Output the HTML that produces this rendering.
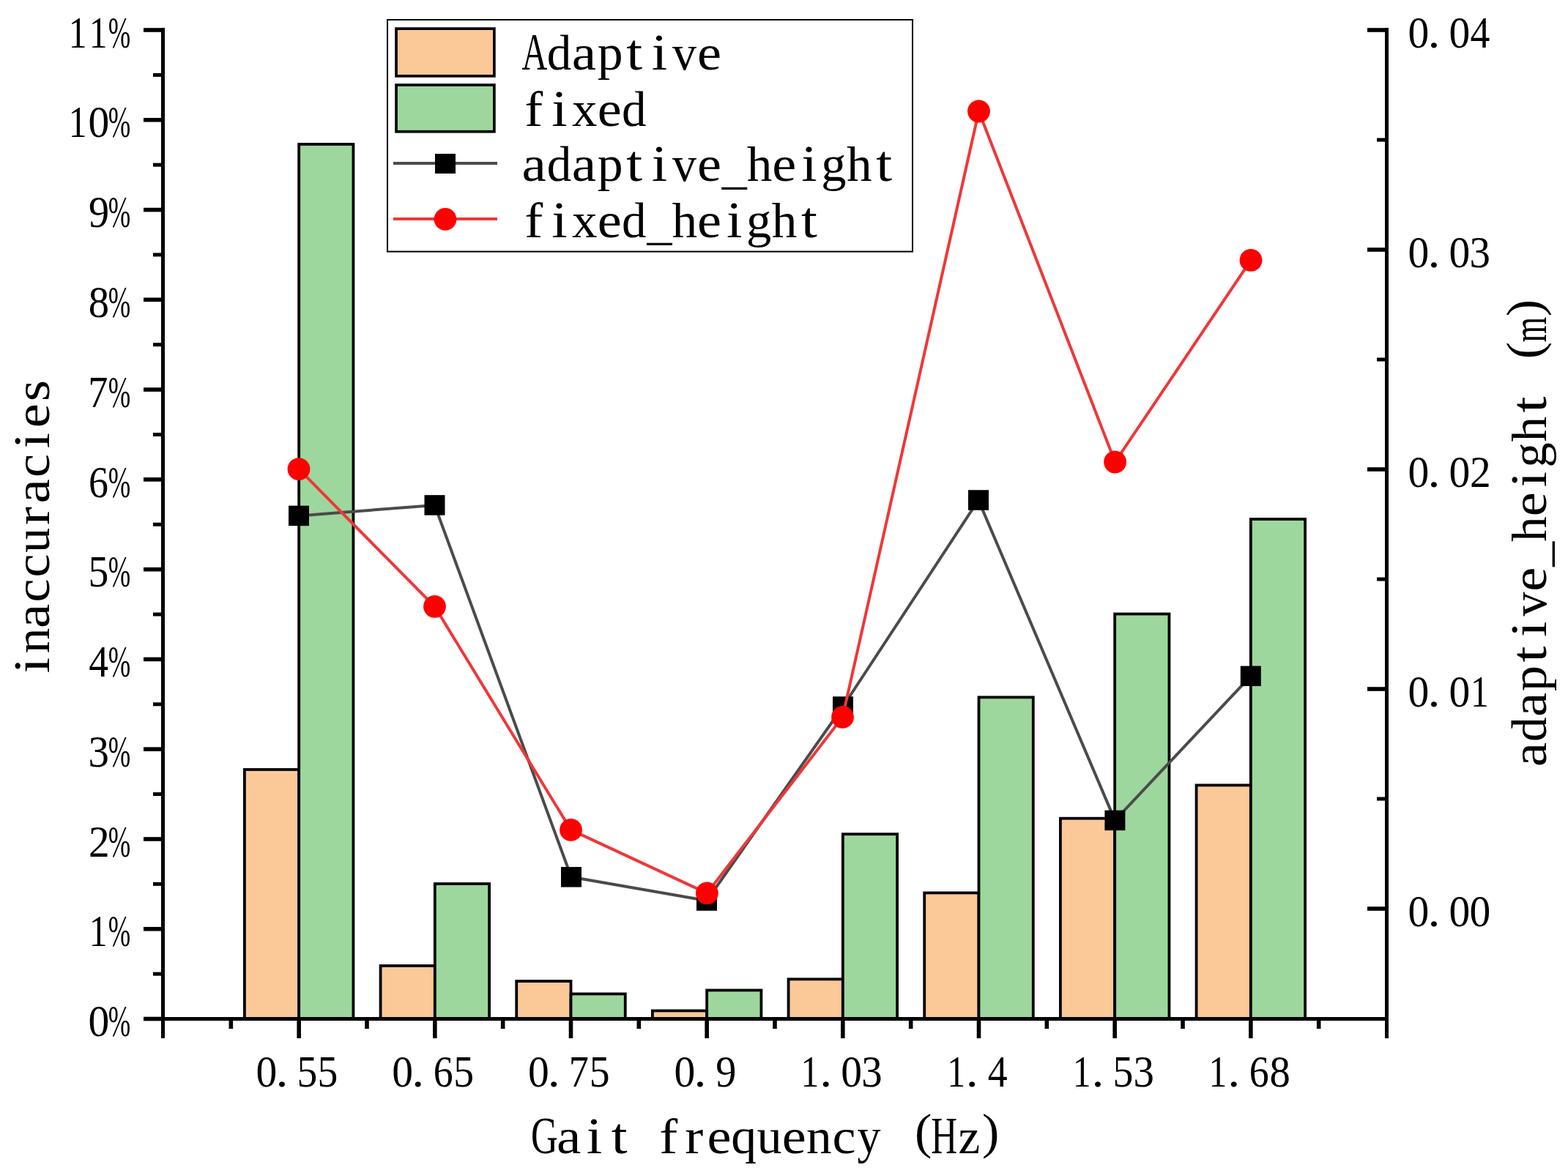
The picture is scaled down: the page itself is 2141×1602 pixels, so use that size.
<!DOCTYPE html>
<html><head><meta charset="utf-8"><title>Gait frequency chart</title><style>html,body{margin:0;padding:0;background:#fff;}svg{display:block;}</style></head><body>
<svg width="2141" height="1602" viewBox="0 0 2141 1602">
<rect x="0" y="0" width="2141" height="1602" fill="#fff"/>
<g stroke="#000" stroke-width="3.8" stroke-linejoin="miter">
<rect x="333.9" y="1051" width="74.27" height="340.5" fill="#FBC898"/>
<rect x="408.17" y="197" width="74.27" height="1194.5" fill="#9DD79D"/>
<rect x="519.57" y="1319" width="74.27" height="72.5" fill="#FBC898"/>
<rect x="593.83" y="1207" width="74.27" height="184.5" fill="#9DD79D"/>
<rect x="705.23" y="1340" width="74.27" height="51.5" fill="#FBC898"/>
<rect x="779.5" y="1357.4" width="74.27" height="34.1" fill="#9DD79D"/>
<rect x="890.9" y="1380.4" width="74.27" height="11.1" fill="#FBC898"/>
<rect x="965.17" y="1352.4" width="74.27" height="39.1" fill="#9DD79D"/>
<rect x="1076.57" y="1337.3" width="74.27" height="54.2" fill="#FBC898"/>
<rect x="1150.83" y="1139.2" width="74.27" height="252.3" fill="#9DD79D"/>
<rect x="1262.23" y="1219.4" width="74.27" height="172.1" fill="#FBC898"/>
<rect x="1336.5" y="952.3" width="74.27" height="439.2" fill="#9DD79D"/>
<rect x="1447.9" y="1117.7" width="74.27" height="273.8" fill="#FBC898"/>
<rect x="1522.17" y="838.5" width="74.27" height="553" fill="#9DD79D"/>
<rect x="1633.57" y="1072.4" width="74.27" height="319.1" fill="#FBC898"/>
<rect x="1707.83" y="709" width="74.27" height="682.5" fill="#9DD79D"/>
</g>
<g stroke="#000" fill="none" stroke-linecap="butt">
<line x1="222.5" y1="38" x2="222.5" y2="1418" stroke-width="5"/>
<line x1="1893.5" y1="38" x2="1893.5" y2="1418" stroke-width="5"/>
<line x1="196" y1="1391.5" x2="1896" y2="1391.5" stroke-width="5"/>
<line x1="196" y1="1391.5" x2="222.5" y2="1391.5" stroke-width="5.6"/>
<line x1="196" y1="1268.73" x2="222.5" y2="1268.73" stroke-width="5.6"/>
<line x1="196" y1="1145.95" x2="222.5" y2="1145.95" stroke-width="5.6"/>
<line x1="196" y1="1023.18" x2="222.5" y2="1023.18" stroke-width="5.6"/>
<line x1="196" y1="900.41" x2="222.5" y2="900.41" stroke-width="5.6"/>
<line x1="196" y1="777.64" x2="222.5" y2="777.64" stroke-width="5.6"/>
<line x1="196" y1="654.86" x2="222.5" y2="654.86" stroke-width="5.6"/>
<line x1="196" y1="532.09" x2="222.5" y2="532.09" stroke-width="5.6"/>
<line x1="196" y1="409.32" x2="222.5" y2="409.32" stroke-width="5.6"/>
<line x1="196" y1="286.55" x2="222.5" y2="286.55" stroke-width="5.6"/>
<line x1="196" y1="163.77" x2="222.5" y2="163.77" stroke-width="5.6"/>
<line x1="196" y1="41" x2="222.5" y2="41" stroke-width="5.6"/>
<line x1="209" y1="1330.11" x2="222.5" y2="1330.11" stroke-width="5"/>
<line x1="209" y1="1207.34" x2="222.5" y2="1207.34" stroke-width="5"/>
<line x1="209" y1="1084.57" x2="222.5" y2="1084.57" stroke-width="5"/>
<line x1="209" y1="961.8" x2="222.5" y2="961.8" stroke-width="5"/>
<line x1="209" y1="839.02" x2="222.5" y2="839.02" stroke-width="5"/>
<line x1="209" y1="716.25" x2="222.5" y2="716.25" stroke-width="5"/>
<line x1="209" y1="593.48" x2="222.5" y2="593.48" stroke-width="5"/>
<line x1="209" y1="470.7" x2="222.5" y2="470.7" stroke-width="5"/>
<line x1="209" y1="347.93" x2="222.5" y2="347.93" stroke-width="5"/>
<line x1="209" y1="225.16" x2="222.5" y2="225.16" stroke-width="5"/>
<line x1="209" y1="102.39" x2="222.5" y2="102.39" stroke-width="5"/>
<line x1="1867" y1="1241" x2="1893.5" y2="1241" stroke-width="5.6"/>
<line x1="1867" y1="941" x2="1893.5" y2="941" stroke-width="5.6"/>
<line x1="1867" y1="641" x2="1893.5" y2="641" stroke-width="5.6"/>
<line x1="1867" y1="341" x2="1893.5" y2="341" stroke-width="5.6"/>
<line x1="1867" y1="41" x2="1893.5" y2="41" stroke-width="5.6"/>
<line x1="1880" y1="1091" x2="1893.5" y2="1091" stroke-width="5"/>
<line x1="1880" y1="791" x2="1893.5" y2="791" stroke-width="5"/>
<line x1="1880" y1="491" x2="1893.5" y2="491" stroke-width="5"/>
<line x1="1880" y1="191" x2="1893.5" y2="191" stroke-width="5"/>
<line x1="408.17" y1="1391.5" x2="408.17" y2="1418" stroke-width="5.6"/>
<line x1="593.83" y1="1391.5" x2="593.83" y2="1418" stroke-width="5.6"/>
<line x1="779.5" y1="1391.5" x2="779.5" y2="1418" stroke-width="5.6"/>
<line x1="965.17" y1="1391.5" x2="965.17" y2="1418" stroke-width="5.6"/>
<line x1="1150.83" y1="1391.5" x2="1150.83" y2="1418" stroke-width="5.6"/>
<line x1="1336.5" y1="1391.5" x2="1336.5" y2="1418" stroke-width="5.6"/>
<line x1="1522.17" y1="1391.5" x2="1522.17" y2="1418" stroke-width="5.6"/>
<line x1="1707.83" y1="1391.5" x2="1707.83" y2="1418" stroke-width="5.6"/>
<line x1="315.33" y1="1391.5" x2="315.33" y2="1405" stroke-width="5.6"/>
<line x1="501" y1="1391.5" x2="501" y2="1405" stroke-width="5.6"/>
<line x1="686.67" y1="1391.5" x2="686.67" y2="1405" stroke-width="5.6"/>
<line x1="872.33" y1="1391.5" x2="872.33" y2="1405" stroke-width="5.6"/>
<line x1="1058" y1="1391.5" x2="1058" y2="1405" stroke-width="5.6"/>
<line x1="1243.67" y1="1391.5" x2="1243.67" y2="1405" stroke-width="5.6"/>
<line x1="1429.33" y1="1391.5" x2="1429.33" y2="1405" stroke-width="5.6"/>
<line x1="1615" y1="1391.5" x2="1615" y2="1405" stroke-width="5.6"/>
<line x1="1800.67" y1="1391.5" x2="1800.67" y2="1405" stroke-width="5.6"/>
</g>
<polyline points="408,704.4 593.5,689.9 780,1197.8 965,1230 1151,965 1336,683 1522.4,1120.4 1707.8,923.3" fill="none" stroke="#4B4B4B" stroke-width="4" stroke-linejoin="round"/>
<rect x="394" y="690.65" width="28" height="27.5" fill="#000"/>
<rect x="579.5" y="676.15" width="28" height="27.5" fill="#000"/>
<rect x="766" y="1184.05" width="28" height="27.5" fill="#000"/>
<rect x="951" y="1216.25" width="28" height="27.5" fill="#000"/>
<rect x="1137" y="951.25" width="28" height="27.5" fill="#000"/>
<rect x="1322" y="669.25" width="28" height="27.5" fill="#000"/>
<rect x="1508.4" y="1106.65" width="28" height="27.5" fill="#000"/>
<rect x="1693.8" y="909.55" width="28" height="27.5" fill="#000"/>
<polyline points="408,640.7 593.5,828.3 779.5,1133.4 965.4,1219.9 1150.5,979.4 1336.5,152 1522.6,631 1708,355.4" fill="none" stroke="#EF3739" stroke-width="4" stroke-linejoin="round"/>
<circle cx="408" cy="640.7" r="15.4" fill="#FF0000"/>
<circle cx="593.5" cy="828.3" r="15.4" fill="#FF0000"/>
<circle cx="779.5" cy="1133.4" r="15.4" fill="#FF0000"/>
<circle cx="965.4" cy="1219.9" r="15.4" fill="#FF0000"/>
<circle cx="1150.5" cy="979.4" r="15.4" fill="#FF0000"/>
<circle cx="1336.5" cy="152" r="15.4" fill="#FF0000"/>
<circle cx="1522.6" cy="631" r="15.4" fill="#FF0000"/>
<circle cx="1708" cy="355.4" r="15.4" fill="#FF0000"/>
<rect x="529" y="27" width="717" height="316.6" fill="none" stroke="#000" stroke-width="2"/>
<rect x="541.05" y="39.15" width="133.8" height="64.7" fill="#FBC898" stroke="#000" stroke-width="3.7"/>
<rect x="541.05" y="116.05" width="133.8" height="63.7" fill="#9DD79D" stroke="#000" stroke-width="3.7"/>
<line x1="537" y1="223" x2="679" y2="223" stroke="#4B4B4B" stroke-width="4"/>
<rect x="594" y="210" width="28" height="27" fill="#000"/>
<line x1="537" y1="299" x2="679" y2="299" stroke="#EF3739" stroke-width="4"/>
<circle cx="608" cy="299.4" r="15.3" fill="#FF0000"/>
<g font-family="'Liberation Serif', 'Noto Serif CJK SC', serif" fill="#000">
<text y="95.3" font-size="67"><tspan x="712.53" y="95.3" textLength="34.82" lengthAdjust="spacingAndGlyphs" font-size="72.36">A</tspan><tspan x="746.7" y="95.3">d</tspan><tspan x="780.74" y="95.3" textLength="33.31" lengthAdjust="spacingAndGlyphs">a</tspan><tspan x="815.68" y="95.3" textLength="34.85" lengthAdjust="spacingAndGlyphs">p</tspan><tspan x="855.3" y="95.3" textLength="21.89" lengthAdjust="spacingAndGlyphs" font-size="70.35">t</tspan><tspan x="889.69" y="95.3" textLength="21.47" lengthAdjust="spacingAndGlyphs" font-size="69.01">i</tspan><tspan x="918.1" y="95.3" textLength="33" lengthAdjust="spacingAndGlyphs">v</tspan><tspan x="952.05" y="95.3" textLength="32.98" lengthAdjust="spacingAndGlyphs">e</tspan></text>
<text y="172" font-size="67"><tspan x="716.35" y="172" textLength="24.99" lengthAdjust="spacingAndGlyphs">f</tspan><tspan x="753.29" y="172" textLength="21.47" lengthAdjust="spacingAndGlyphs" font-size="69.01">i</tspan><tspan x="781.09" y="172" textLength="34.45" lengthAdjust="spacingAndGlyphs">x</tspan><tspan x="815.65" y="172" textLength="32.98" lengthAdjust="spacingAndGlyphs">e</tspan><tspan x="849" y="172">d</tspan></text>
<text y="247.3" font-size="67"><tspan x="712.54" y="247.3" textLength="33.31" lengthAdjust="spacingAndGlyphs">a</tspan><tspan x="746.7" y="247.3">d</tspan><tspan x="780.74" y="247.3" textLength="33.31" lengthAdjust="spacingAndGlyphs">a</tspan><tspan x="815.68" y="247.3" textLength="34.85" lengthAdjust="spacingAndGlyphs">p</tspan><tspan x="855.3" y="247.3" textLength="21.89" lengthAdjust="spacingAndGlyphs" font-size="70.35">t</tspan><tspan x="889.69" y="247.3" textLength="21.47" lengthAdjust="spacingAndGlyphs" font-size="69.01">i</tspan><tspan x="918.1" y="247.3" textLength="33" lengthAdjust="spacingAndGlyphs">v</tspan><tspan x="952.05" y="247.3" textLength="32.98" lengthAdjust="spacingAndGlyphs">e</tspan><tspan x="985.83" y="249.8" textLength="33.94" lengthAdjust="spacingAndGlyphs">_</tspan><tspan x="1019.72" y="247.3" textLength="34.59" lengthAdjust="spacingAndGlyphs">h</tspan><tspan x="1054.35" y="247.3" textLength="32.98" lengthAdjust="spacingAndGlyphs">e</tspan><tspan x="1094.29" y="247.3" textLength="21.47" lengthAdjust="spacingAndGlyphs" font-size="69.01">i</tspan><tspan x="1121.26" y="247.3" textLength="34.25" lengthAdjust="spacingAndGlyphs">g</tspan><tspan x="1156.12" y="247.3" textLength="34.59" lengthAdjust="spacingAndGlyphs">h</tspan><tspan x="1196.3" y="247.3" textLength="21.89" lengthAdjust="spacingAndGlyphs" font-size="70.35">t</tspan></text>
<text y="323.6" font-size="67"><tspan x="716.35" y="323.6" textLength="24.99" lengthAdjust="spacingAndGlyphs">f</tspan><tspan x="753.29" y="323.6" textLength="21.47" lengthAdjust="spacingAndGlyphs" font-size="69.01">i</tspan><tspan x="781.09" y="323.6" textLength="34.45" lengthAdjust="spacingAndGlyphs">x</tspan><tspan x="815.65" y="323.6" textLength="32.98" lengthAdjust="spacingAndGlyphs">e</tspan><tspan x="849" y="323.6">d</tspan><tspan x="883.53" y="326.1" textLength="33.94" lengthAdjust="spacingAndGlyphs">_</tspan><tspan x="917.42" y="323.6" textLength="34.59" lengthAdjust="spacingAndGlyphs">h</tspan><tspan x="952.05" y="323.6" textLength="32.98" lengthAdjust="spacingAndGlyphs">e</tspan><tspan x="991.99" y="323.6" textLength="21.47" lengthAdjust="spacingAndGlyphs" font-size="69.01">i</tspan><tspan x="1018.96" y="323.6" textLength="34.25" lengthAdjust="spacingAndGlyphs">g</tspan><tspan x="1053.82" y="323.6" textLength="34.59" lengthAdjust="spacingAndGlyphs">h</tspan><tspan x="1094" y="323.6" textLength="21.89" lengthAdjust="spacingAndGlyphs" font-size="70.35">t</tspan></text>
<text y="1574.8" font-size="67"><tspan x="724.92" y="1574.8" textLength="36.67" lengthAdjust="spacingAndGlyphs" font-size="72.36">G</tspan><tspan x="760.14" y="1574.8" textLength="33.31" lengthAdjust="spacingAndGlyphs">a</tspan><tspan x="800.89" y="1574.8" textLength="21.47" lengthAdjust="spacingAndGlyphs" font-size="69.01">i</tspan><tspan x="834.7" y="1574.8" textLength="21.89" lengthAdjust="spacingAndGlyphs" font-size="70.35">t</tspan> <tspan x="900.35" y="1574.8" textLength="24.99" lengthAdjust="spacingAndGlyphs">f</tspan><tspan x="935.18" y="1574.8" textLength="24.99" lengthAdjust="spacingAndGlyphs">r</tspan><tspan x="965.55" y="1574.8" textLength="32.98" lengthAdjust="spacingAndGlyphs">e</tspan><tspan x="998.29" y="1574.8" textLength="34.77" lengthAdjust="spacingAndGlyphs">q</tspan><tspan x="1033.5" y="1574.8" textLength="34.06" lengthAdjust="spacingAndGlyphs">u</tspan><tspan x="1067.85" y="1574.8" textLength="32.98" lengthAdjust="spacingAndGlyphs">e</tspan><tspan x="1101.01" y="1574.8" textLength="34.64" lengthAdjust="spacingAndGlyphs">n</tspan><tspan x="1136.46" y="1574.8" textLength="31.96" lengthAdjust="spacingAndGlyphs">c</tspan><tspan x="1170.52" y="1574.8" textLength="32.03" lengthAdjust="spacingAndGlyphs">y</tspan> <tspan x="1248.92" y="1567.8" textLength="23.34" lengthAdjust="spacingAndGlyphs">(</tspan><tspan x="1271.17" y="1574.8" textLength="35.89" lengthAdjust="spacingAndGlyphs" font-size="72.36">H</tspan><tspan x="1308.41" y="1574.8">z</tspan><tspan x="1341.04" y="1567.8" textLength="23.34" lengthAdjust="spacingAndGlyphs">)</tspan></text>
<text y="67" font-size="67" transform="rotate(-90)"><tspan x="-919.51" y="67" textLength="21.47" lengthAdjust="spacingAndGlyphs" font-size="69.01">i</tspan><tspan x="-892.19" y="67" textLength="34.64" lengthAdjust="spacingAndGlyphs">n</tspan><tspan x="-857.96" y="67" textLength="33.31" lengthAdjust="spacingAndGlyphs">a</tspan><tspan x="-822.64" y="67" textLength="31.96" lengthAdjust="spacingAndGlyphs">c</tspan><tspan x="-788.54" y="67" textLength="31.96" lengthAdjust="spacingAndGlyphs">c</tspan><tspan x="-755.1" y="67" textLength="34.06" lengthAdjust="spacingAndGlyphs">u</tspan><tspan x="-717.02" y="67" textLength="24.99" lengthAdjust="spacingAndGlyphs">r</tspan><tspan x="-687.46" y="67" textLength="33.31" lengthAdjust="spacingAndGlyphs">a</tspan><tspan x="-652.14" y="67" textLength="31.96" lengthAdjust="spacingAndGlyphs">c</tspan><tspan x="-612.61" y="67" textLength="21.47" lengthAdjust="spacingAndGlyphs" font-size="69.01">i</tspan><tspan x="-584.35" y="67" textLength="32.98" lengthAdjust="spacingAndGlyphs">e</tspan><tspan x="-548.38" y="67" textLength="29.2" lengthAdjust="spacingAndGlyphs">s</tspan></text>
<text y="2111" font-size="67" transform="rotate(-90)"><tspan x="-1047.16" y="2111" textLength="33.31" lengthAdjust="spacingAndGlyphs">a</tspan><tspan x="-1013" y="2111">d</tspan><tspan x="-978.96" y="2111" textLength="33.31" lengthAdjust="spacingAndGlyphs">a</tspan><tspan x="-944.02" y="2111" textLength="34.85" lengthAdjust="spacingAndGlyphs">p</tspan><tspan x="-904.4" y="2111" textLength="21.89" lengthAdjust="spacingAndGlyphs" font-size="70.35">t</tspan><tspan x="-870.01" y="2111" textLength="21.47" lengthAdjust="spacingAndGlyphs" font-size="69.01">i</tspan><tspan x="-841.6" y="2111" textLength="33" lengthAdjust="spacingAndGlyphs">v</tspan><tspan x="-807.65" y="2111" textLength="32.98" lengthAdjust="spacingAndGlyphs">e</tspan><tspan x="-773.87" y="2113.5" textLength="33.94" lengthAdjust="spacingAndGlyphs">_</tspan><tspan x="-739.98" y="2111" textLength="34.59" lengthAdjust="spacingAndGlyphs">h</tspan><tspan x="-705.35" y="2111" textLength="32.98" lengthAdjust="spacingAndGlyphs">e</tspan><tspan x="-665.41" y="2111" textLength="21.47" lengthAdjust="spacingAndGlyphs" font-size="69.01">i</tspan><tspan x="-638.44" y="2111" textLength="34.25" lengthAdjust="spacingAndGlyphs">g</tspan><tspan x="-603.58" y="2111" textLength="34.59" lengthAdjust="spacingAndGlyphs">h</tspan><tspan x="-563.4" y="2111" textLength="21.89" lengthAdjust="spacingAndGlyphs" font-size="70.35">t</tspan> <tspan x="-490.18" y="2104" textLength="23.34" lengthAdjust="spacingAndGlyphs">(</tspan><tspan x="-467.43" y="2111" textLength="34.63" lengthAdjust="spacingAndGlyphs">m</tspan><tspan x="-432.16" y="2104" textLength="23.34" lengthAdjust="spacingAndGlyphs">)</tspan></text>
<text y="1415.2" font-size="60.6"><tspan x="120.51" y="1415.2" textLength="28.79" lengthAdjust="spacingAndGlyphs">0</tspan><tspan x="147.65" y="1415.2" textLength="30.5" lengthAdjust="spacingAndGlyphs">%</tspan></text>
<text y="1292.43" font-size="60.6"><tspan x="121.78" y="1292.43" textLength="24.85" lengthAdjust="spacingAndGlyphs">1</tspan><tspan x="147.65" y="1292.43" textLength="30.5" lengthAdjust="spacingAndGlyphs">%</tspan></text>
<text y="1169.65" font-size="60.6"><tspan x="120.88" y="1169.65" textLength="28.69" lengthAdjust="spacingAndGlyphs">2</tspan><tspan x="147.65" y="1169.65" textLength="30.5" lengthAdjust="spacingAndGlyphs">%</tspan></text>
<text y="1046.88" font-size="60.6"><tspan x="120.43" y="1046.88" textLength="28.44" lengthAdjust="spacingAndGlyphs">3</tspan><tspan x="147.65" y="1046.88" textLength="30.5" lengthAdjust="spacingAndGlyphs">%</tspan></text>
<text y="924.11" font-size="60.6"><tspan x="121.35" y="924.11" textLength="26.89" lengthAdjust="spacingAndGlyphs">4</tspan><tspan x="147.65" y="924.11" textLength="30.5" lengthAdjust="spacingAndGlyphs">%</tspan></text>
<text y="801.34" font-size="60.6"><tspan x="120.47" y="801.34" textLength="27.8" lengthAdjust="spacingAndGlyphs">5</tspan><tspan x="147.65" y="801.34" textLength="30.5" lengthAdjust="spacingAndGlyphs">%</tspan></text>
<text y="678.56" font-size="60.6"><tspan x="121.09" y="678.56" textLength="26.92" lengthAdjust="spacingAndGlyphs">6</tspan><tspan x="147.65" y="678.56" textLength="30.5" lengthAdjust="spacingAndGlyphs">%</tspan></text>
<text y="555.79" font-size="60.6"><tspan x="120.32" y="555.79" textLength="27.14" lengthAdjust="spacingAndGlyphs">7</tspan><tspan x="147.65" y="555.79" textLength="30.5" lengthAdjust="spacingAndGlyphs">%</tspan></text>
<text y="433.02" font-size="60.6"><tspan x="120.74" y="433.02" textLength="28.31" lengthAdjust="spacingAndGlyphs">8</tspan><tspan x="147.65" y="433.02" textLength="30.5" lengthAdjust="spacingAndGlyphs">%</tspan></text>
<text y="310.25" font-size="60.6"><tspan x="121.09" y="310.25" textLength="28.12" lengthAdjust="spacingAndGlyphs">9</tspan><tspan x="147.65" y="310.25" textLength="30.5" lengthAdjust="spacingAndGlyphs">%</tspan></text>
<text y="187.47" font-size="60.6"><tspan x="93.78" y="187.47" textLength="24.85" lengthAdjust="spacingAndGlyphs">1</tspan><tspan x="120.51" y="187.47" textLength="28.79" lengthAdjust="spacingAndGlyphs">0</tspan><tspan x="147.65" y="187.47" textLength="30.5" lengthAdjust="spacingAndGlyphs">%</tspan></text>
<text y="64.7" font-size="60.6"><tspan x="93.78" y="64.7" textLength="24.85" lengthAdjust="spacingAndGlyphs">1</tspan><tspan x="121.78" y="64.7" textLength="24.85" lengthAdjust="spacingAndGlyphs">1</tspan><tspan x="147.65" y="64.7" textLength="30.5" lengthAdjust="spacingAndGlyphs">%</tspan></text>
<text y="1264.8" font-size="60.6"><tspan x="1922.61" y="1264.8" textLength="28.79" lengthAdjust="spacingAndGlyphs">0</tspan><tspan x="1949.54" y="1264.8" textLength="16.93" lengthAdjust="spacingAndGlyphs">.</tspan><tspan x="1978.61" y="1264.8" textLength="28.79" lengthAdjust="spacingAndGlyphs">0</tspan><tspan x="2006.61" y="1264.8" textLength="28.79" lengthAdjust="spacingAndGlyphs">0</tspan></text>
<text y="964.8" font-size="60.6"><tspan x="1922.61" y="964.8" textLength="28.79" lengthAdjust="spacingAndGlyphs">0</tspan><tspan x="1949.54" y="964.8" textLength="16.93" lengthAdjust="spacingAndGlyphs">.</tspan><tspan x="1978.61" y="964.8" textLength="28.79" lengthAdjust="spacingAndGlyphs">0</tspan><tspan x="2007.88" y="964.8" textLength="24.85" lengthAdjust="spacingAndGlyphs">1</tspan></text>
<text y="664.8" font-size="60.6"><tspan x="1922.61" y="664.8" textLength="28.79" lengthAdjust="spacingAndGlyphs">0</tspan><tspan x="1949.54" y="664.8" textLength="16.93" lengthAdjust="spacingAndGlyphs">.</tspan><tspan x="1978.61" y="664.8" textLength="28.79" lengthAdjust="spacingAndGlyphs">0</tspan><tspan x="2006.98" y="664.8" textLength="28.69" lengthAdjust="spacingAndGlyphs">2</tspan></text>
<text y="364.8" font-size="60.6"><tspan x="1922.61" y="364.8" textLength="28.79" lengthAdjust="spacingAndGlyphs">0</tspan><tspan x="1949.54" y="364.8" textLength="16.93" lengthAdjust="spacingAndGlyphs">.</tspan><tspan x="1978.61" y="364.8" textLength="28.79" lengthAdjust="spacingAndGlyphs">0</tspan><tspan x="2006.53" y="364.8" textLength="28.44" lengthAdjust="spacingAndGlyphs">3</tspan></text>
<text y="64.8" font-size="60.6"><tspan x="1922.61" y="64.8" textLength="28.79" lengthAdjust="spacingAndGlyphs">0</tspan><tspan x="1949.54" y="64.8" textLength="16.93" lengthAdjust="spacingAndGlyphs">.</tspan><tspan x="1978.61" y="64.8" textLength="28.79" lengthAdjust="spacingAndGlyphs">0</tspan><tspan x="2007.45" y="64.8" textLength="26.89" lengthAdjust="spacingAndGlyphs">4</tspan></text>
<text y="1483.8" font-size="60.6"><tspan x="349.57" y="1483.8" textLength="28.79" lengthAdjust="spacingAndGlyphs">0</tspan><tspan x="376.5" y="1483.8" textLength="16.93" lengthAdjust="spacingAndGlyphs">.</tspan><tspan x="405.54" y="1483.8" textLength="27.8" lengthAdjust="spacingAndGlyphs">5</tspan><tspan x="433.54" y="1483.8" textLength="27.8" lengthAdjust="spacingAndGlyphs">5</tspan></text>
<text y="1483.8" font-size="60.6"><tspan x="535.24" y="1483.8" textLength="28.79" lengthAdjust="spacingAndGlyphs">0</tspan><tspan x="562.17" y="1483.8" textLength="16.93" lengthAdjust="spacingAndGlyphs">.</tspan><tspan x="591.82" y="1483.8" textLength="26.92" lengthAdjust="spacingAndGlyphs">6</tspan><tspan x="619.2" y="1483.8" textLength="27.8" lengthAdjust="spacingAndGlyphs">5</tspan></text>
<text y="1483.8" font-size="60.6"><tspan x="720.91" y="1483.8" textLength="28.79" lengthAdjust="spacingAndGlyphs">0</tspan><tspan x="747.84" y="1483.8" textLength="16.93" lengthAdjust="spacingAndGlyphs">.</tspan><tspan x="776.72" y="1483.8" textLength="27.14" lengthAdjust="spacingAndGlyphs">7</tspan><tspan x="804.87" y="1483.8" textLength="27.8" lengthAdjust="spacingAndGlyphs">5</tspan></text>
<text y="1483.8" font-size="60.6"><tspan x="920.57" y="1483.8" textLength="28.79" lengthAdjust="spacingAndGlyphs">0</tspan><tspan x="947.5" y="1483.8" textLength="16.93" lengthAdjust="spacingAndGlyphs">.</tspan><tspan x="977.15" y="1483.8" textLength="28.12" lengthAdjust="spacingAndGlyphs">9</tspan></text>
<text y="1483.8" font-size="60.6"><tspan x="1093.51" y="1483.8" textLength="24.85" lengthAdjust="spacingAndGlyphs">1</tspan><tspan x="1119.17" y="1483.8" textLength="16.93" lengthAdjust="spacingAndGlyphs">.</tspan><tspan x="1148.24" y="1483.8" textLength="28.79" lengthAdjust="spacingAndGlyphs">0</tspan><tspan x="1176.16" y="1483.8" textLength="28.44" lengthAdjust="spacingAndGlyphs">3</tspan></text>
<text y="1483.8" font-size="60.6"><tspan x="1293.18" y="1483.8" textLength="24.85" lengthAdjust="spacingAndGlyphs">1</tspan><tspan x="1318.84" y="1483.8" textLength="16.93" lengthAdjust="spacingAndGlyphs">.</tspan><tspan x="1348.75" y="1483.8" textLength="26.89" lengthAdjust="spacingAndGlyphs">4</tspan></text>
<text y="1483.8" font-size="60.6"><tspan x="1464.85" y="1483.8" textLength="24.85" lengthAdjust="spacingAndGlyphs">1</tspan><tspan x="1490.5" y="1483.8" textLength="16.93" lengthAdjust="spacingAndGlyphs">.</tspan><tspan x="1519.54" y="1483.8" textLength="27.8" lengthAdjust="spacingAndGlyphs">5</tspan><tspan x="1547.49" y="1483.8" textLength="28.44" lengthAdjust="spacingAndGlyphs">3</tspan></text>
<text y="1483.8" font-size="60.6"><tspan x="1650.51" y="1483.8" textLength="24.85" lengthAdjust="spacingAndGlyphs">1</tspan><tspan x="1676.17" y="1483.8" textLength="16.93" lengthAdjust="spacingAndGlyphs">.</tspan><tspan x="1705.82" y="1483.8" textLength="26.92" lengthAdjust="spacingAndGlyphs">6</tspan><tspan x="1733.48" y="1483.8" textLength="28.31" lengthAdjust="spacingAndGlyphs">8</tspan></text>
</g>
</svg>
</body></html>
